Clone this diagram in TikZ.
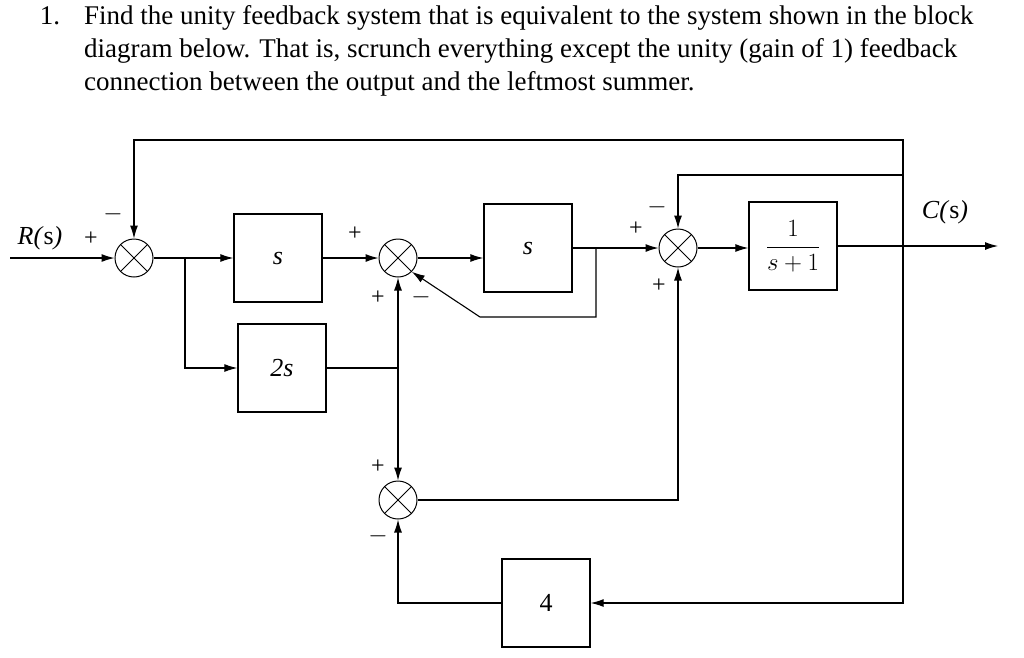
\documentclass[tikz,border=0pt]{standalone}
\usepackage{fontspec}
\setmainfont{Liberation Serif}
\usetikzlibrary{arrows.meta}
\begin{document}
\begin{tikzpicture}[x=1pt,y=-1pt,line width=1.1pt,
  blk/.style={draw,line width=1.4pt,minimum width=88pt,minimum height=88pt,font=\fontsize{26}{26}\selectfont\itshape},
  sum/.style={draw,circle,line width=1pt,minimum size=38pt,inner sep=0pt,
     path picture={\draw[line width=1pt] (path picture bounding box.north west)--(path picture bounding box.south east)
       (path picture bounding box.north east)--(path picture bounding box.south west);}},
  ar/.style={-{Latex[length=13pt,width=8pt]}},
  sg/.style={font=\fontsize{24}{24}\selectfont}]
\useasboundingbox (0,0) rectangle (1024,657);
\node[anchor=north west,align=left,font=\fontsize{27}{33}\selectfont] (txt) at (36,2)
 {1.\hspace{24pt}\parbox[t]{960pt}{Find the unity feedback system that is equivalent to the system shown in the block\\
 diagram below. That is, scrunch everything except the unity (gain of 1) feedback\\
 connection between the output and the leftmost summer.}};
\node[sum] (s1) at (134,258) {};
\node[sum] (s2) at (398,258) {};
\node[sum] (s3) at (678,248) {};
\node[sum] (s4) at (398,500) {};
\node[blk] (b1) at (278,258) {s};
\node[blk] (b2) at (282,368) {2s};
\node[blk] (b3) at (528,248) {s};
\node[blk] (b4) at (793,246) {$\displaystyle\frac{1}{s+1}$};
\node[blk] (b5) at (546,603) {\upshape 4};
\node[font=\fontsize{26}{26}\selectfont] (R) at (40,238) {\itshape R(\textup{s})};
\node[font=\fontsize{26}{26}\selectfont] (C) at (945,212) {\itshape C(\textup{s})};
\coordinate (in) at (10,258);
\coordinate (out) at (998,246);
\coordinate (j1) at (185,258);
\coordinate (j2) at (596,248);
\coordinate (j3) at (398,368);
\coordinate (j4) at (903,246);
\node[sg] at (91,239) {+};
\node[sg] at (113,214) {$-$};
\node[sg] at (355,234) {+};
\node[sg] at (378,298) {+};
\node[sg] at (421,297) {$-$};
\node[sg] at (636,229) {+};
\node[sg] at (657,207) {$-$};
\node[sg] at (659,286) {+};
\node[sg] at (378,467) {+};
\node[sg] at (378,536) {$-$};
% connections
\draw[ar] (in) -- (s1);
\draw[ar] (s1) -- (b1);
\draw[ar] (j1) |- (b2);
\draw[ar] (b1) -- (s2);
\draw[ar] (s2) -- (s2 -| b3.west);
\draw[ar] (b3.east) -- (s3);
\draw[ar] (j2) |- (480,317) -- (s2.south east);
\draw[ar] (s3) -- (s3 -| b4.west);
\draw[ar] (b4) -- (out);
\draw (b2.east) -- (j3);
\draw[ar] (j3) -- (s2.south);
\draw[ar] (j3) -- (s4.north);
\draw[ar] (s4.east) -| (s3.south);
\draw[ar] (j4) |- (b5.east);
\draw[ar] (b5.west) -| (s4.south);
\draw[ar] (j4) |- (134,140) -- (s1.north);
\draw[ar] (903,175) -| (s3.north);
\end{tikzpicture}
\end{document}
